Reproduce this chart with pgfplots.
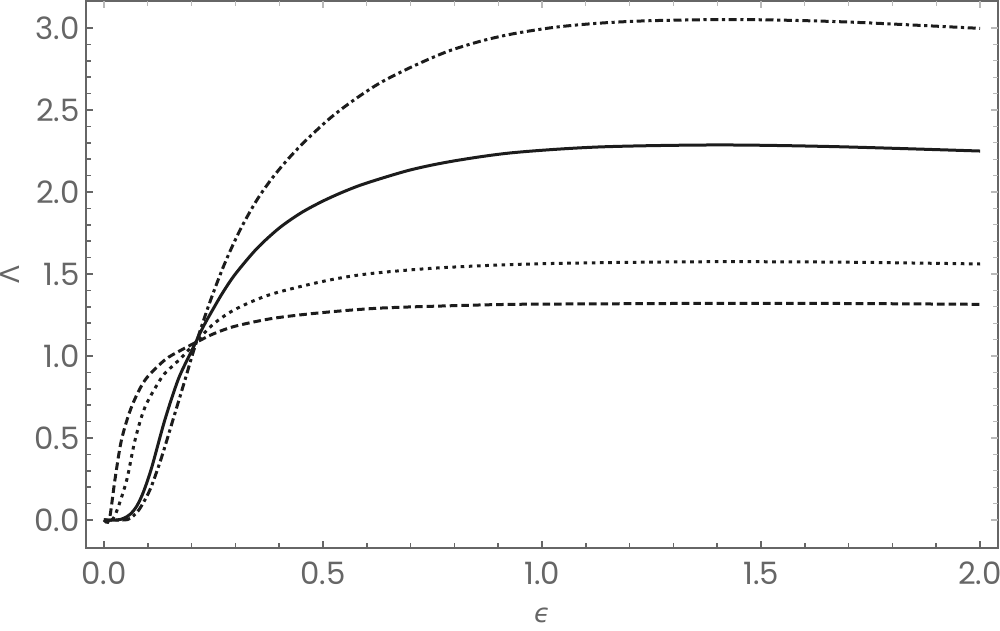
\documentclass[border=0pt]{standalone}
\usepackage{pgfplots}
\pgfplotsset{compat=1.18}
\usepackage{pgfplotstable}
\usepackage{fontspec}
\setmainfont{Poppins}
\newfontfamily\dejavu{DejaVu Sans}
\usetikzlibrary{calc}
\definecolor{fr}{RGB}{102,102,102}
\definecolor{lt}{RGB}{185,185,185}
\definecolor{cv}{RGB}{28,28,28}

\pgfplotstableread{
x y
0 0
0.012 0
0.025 0.244
0.040 0.488
0.063 0.69
0.094 0.854
0.139 0.976
0.177 1.037
0.208 1.080
0.25 1.135
0.30 1.182
0.387 1.230
0.50 1.265
0.63 1.292
0.80 1.307
0.934 1.315
1.132 1.318
1.40 1.321
1.70 1.320
2.0 1.315
}\dashedA

\pgfplotstableread{
x y
0 0
0.018 0
0.030 0.06
0.052 0.244
0.071 0.488
0.094 0.69
0.132 0.87
0.155 0.935
0.177 0.99
0.208 1.080
0.25 1.195
0.30 1.285
0.38 1.375
0.50 1.455
0.60 1.50
0.75 1.535
0.934 1.558
1.132 1.569
1.40 1.575
1.70 1.572
2.0 1.561
}\dottedB

\pgfplotstableread{
x y
0 0
0.03 0
0.045 0.01
0.06 0.035
0.075 0.085
0.09 0.17
0.109 0.32
0.139 0.61
0.170 0.86
0.2 1.03
0.227 1.18
0.25 1.29
0.272 1.39
0.30 1.50
0.349 1.655
0.40 1.78
0.45 1.873
0.50 1.945
0.55 2.005
0.60 2.055
0.70 2.135
0.80 2.19
0.934 2.240
1.132 2.275
1.40 2.287
1.665 2.277
2.0 2.25
}\solidC

\pgfplotstableread{
x y
0 0
0.045 0
0.06 0.01
0.078 0.055
0.095 0.13
0.109 0.21
0.132 0.386
0.162 0.65
0.185 0.854
0.208 1.06
0.242 1.33
0.275 1.56
0.311 1.77
0.35 1.955
0.387 2.095
0.425 2.215
0.463 2.32
0.516 2.45
0.57 2.56
0.63 2.665
0.70 2.76
0.782 2.855
0.86 2.92
0.934 2.965
1.03 3.005
1.132 3.03
1.25 3.045
1.437 3.052
1.60 3.045
1.741 3.032
2.0 2.998
}\dashdotD

\begin{document}
\begin{tikzpicture}
\pgfplotsset{
  common/.style={
    width=456pt, height=273.5pt, scale only axis,
    xmin=-0.041, xmax=2.041, ymin=-0.171, ymax=3.165,
    xtick={0,0.5,1,1.5,2}, ytick={0,0.5,1,1.5,2,2.5,3},
    minor x tick num=4, minor y tick num=4,
    tick align=inside,
    major tick length=3.5pt, minor tick length=2.3pt,
  }
}
\begin{axis}[common, name=ax,
    tick pos=left,
    axis line style={fr, line width=1pt},
    tick style={fr, line width=0.8pt},
    /pgf/number format/assume math mode=true,
    /pgf/number format/.cd, fixed, fixed zerofill, precision=1, /pgfplots/.cd,
    ticklabel style={font=\fontsize{15.4}{16}\selectfont, text=fr, inner sep=0pt},
    yticklabel style={anchor=east, xshift=-3pt},
    xticklabel style={anchor=north, yshift=-6.8pt},
    xlabel={\dejavu\itshape ϵ},
    ylabel={\dejavu Λ},
    label style={font=\fontsize{13}{14}\selectfont, text=fr, inner sep=0pt},
    xlabel style={at={(axis description cs:0.5,-0.124)}, anchor=center},
    ylabel style={at={(axis description cs:-0.0833,0.5)}, anchor=center},
  ]
  \addplot[cv, line width=1.5pt, smooth, dash pattern=on 3.8pt off 2pt] table[x=x,y=y]{\dashedA};
  \addplot[cv, line width=1.5pt, smooth, dash pattern=on 1.8pt off 2.3pt] table[x=x,y=y]{\dottedB};
  \addplot[cv, line width=1.5pt, smooth] table[x=x,y=y]{\solidC};
  \addplot[cv, line width=1.5pt, smooth, dash pattern=on 4pt off 1.8pt on 1.6pt off 1.8pt] table[x=x,y=y]{\dashdotD};
\end{axis}
\begin{axis}[common,
    tick pos=right,
    xticklabels={}, yticklabels={},
    axis line style={draw=none},
    tick style={lt, line width=0.6pt},
  ]
\end{axis}
\pgfresetboundingbox
\path ($(ax.south west)+(-43pt,-41.5pt)$) rectangle ($(ax.north east)+(1pt,0.5pt)$);
\end{tikzpicture}
\end{document}
